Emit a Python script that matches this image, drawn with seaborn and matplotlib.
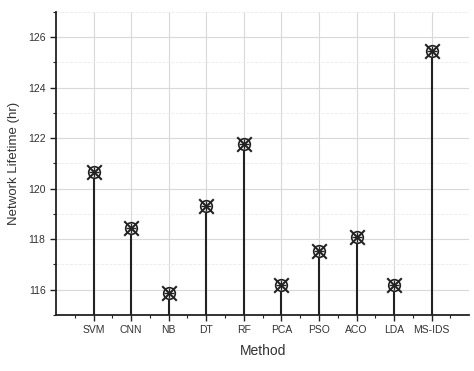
import matplotlib
matplotlib.use("Agg")
import matplotlib.pyplot as plt
import seaborn as sns
import pandas as pd
from matplotlib.ticker import MultipleLocator

methods = ["SVM", "CNN", "NB", "DT", "RF", "PCA", "PSO", "ACO", "LDA", "MS-IDS"]
lifetime = [120.65, 118.45, 115.88, 119.32, 121.75, 116.2, 117.55, 118.1, 116.2, 125.45]

df = pd.DataFrame({"Method": methods, "Lifetime": lifetime})
df["pos"] = range(len(methods))

sns.set_style("white")
plt.rcParams['font.family'] = ['Liberation Sans', 'DejaVu Sans']

fig = plt.figure(figsize=(4.74, 3.71), dpi=100)
ax = fig.add_axes([0.118, 0.151, 0.872, 0.817])

ax.set_xlim(-1, 10)
ax.set_ylim(115, 127)

ax.yaxis.set_major_locator(MultipleLocator(2))
ax.yaxis.set_minor_locator(MultipleLocator(1))
ax.set_xticks(df["pos"])
ax.set_xticks([p + 0.5 for p in range(-1, 10)], minor=True)
ax.set_xticklabels(methods)

ax.grid(True, which="major", axis="y", color="#d9d9d9", lw=0.8)
ax.grid(True, which="minor", axis="y", color="#ebebeb", lw=0.6, ls="--")
ax.grid(True, which="major", axis="x", color="#d9d9d9", lw=0.8)
ax.set_axisbelow(True)

ax.vlines(df["pos"], 115, df["Lifetime"], color="#222222", lw=1.5, zorder=2)
sns.scatterplot(data=df, x="pos", y="Lifetime", ax=ax, marker="o", s=70,
                facecolor="white", edgecolor="#222222", linewidth=1.2, zorder=3)
sns.scatterplot(data=df, x="pos", y="Lifetime", ax=ax, marker="x", s=110,
                color="#222222", linewidth=1.5, zorder=4)
sns.scatterplot(data=df, x="pos", y="Lifetime", ax=ax, marker="+", s=45,
                color="#222222", linewidth=1.0, zorder=4)

for s in ["top", "right"]:
    ax.spines[s].set_visible(False)
for s in ["left", "bottom"]:
    ax.spines[s].set_color("#222222")
    ax.spines[s].set_linewidth(1.3)

ax.tick_params(axis="both", which="major", direction="out", length=4, width=1,
               labelsize=7.5, colors="#222222", labelcolor="#333333")
ax.tick_params(axis="both", which="minor", direction="out", length=2.5, width=0.8,
               colors="#222222")
ax.tick_params(axis="both", which="both", bottom=True, left=True)

ax.set_xlabel("Method", fontsize=10, color="#333333", labelpad=6)
ax.set_ylabel("Network Lifetime (hr)", fontsize=9.5, color="#333333", labelpad=6)

fig.savefig("out.png", dpi=100)
